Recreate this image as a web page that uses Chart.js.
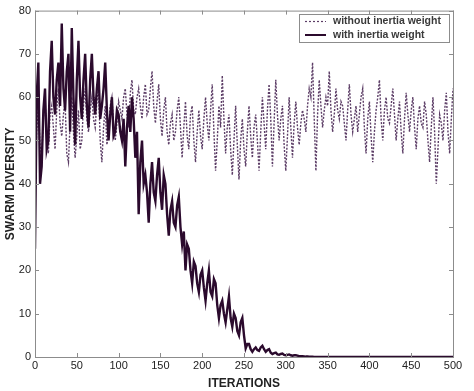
<!DOCTYPE html>
<html>
<head>
<meta charset="utf-8">
<script src="https://cdn.jsdelivr.net/npm/chart.js@4.4.1/dist/chart.umd.min.js"></script>
<style>
    body { margin: 0; background: #fff; }
    #wrap { width: 474px; height: 391px; position: relative; }
</style>
</head>
<body>
<div id="wrap"><canvas id="myChart"></canvas></div>
<script>
// iterations sampled every 2 steps
const iterations = Array.from({ length: 251 }, (_, i) => i * 2);

const withoutInertia = [
    40, 52, 58, 49, 46, 55, 60, 50, 47, 56, 58, 53, 48, 57, 62, 54, 51, 56, 59, 47, 45, 54, 60, 52, 46, 51, 57, 48, 50, 58, 62, 55,
    52, 57, 60, 55, 53, 59, 62, 50, 45, 53, 58, 49, 52, 58, 60, 53, 50, 54, 59, 57, 55, 60, 62, 56, 53, 61, 64, 57, 56, 60, 62, 58,
    55, 60, 63, 56, 57, 62, 66, 58, 54, 59, 63, 55, 51, 57, 60, 52, 49, 54, 56, 50, 52, 57, 60, 53, 46, 53, 59, 51, 48, 56, 58, 50,
    45, 52, 57, 51, 48, 55, 60, 54, 50, 57, 63, 52, 43, 50, 58, 53, 65, 55, 47, 53, 56, 48, 42, 50, 58, 49, 41, 50, 55, 48, 44, 52,
    58, 51, 46, 53, 56, 50, 43, 52, 60, 54, 48, 57, 63, 55, 44, 54, 64, 56, 50, 55, 58, 49, 43, 51, 60, 53, 46, 54, 59, 53, 49, 54,
    57, 55, 52, 58, 62, 60, 68, 55, 43, 56, 64, 58, 53, 57, 60, 58, 66, 57, 52, 56, 62, 57, 55, 59, 58, 54, 50, 57, 63, 56, 52, 55,
    58, 52, 56, 60, 62, 53, 47, 55, 59, 51, 45, 52, 57, 60, 64, 55, 50, 57, 60, 55, 54, 58, 62, 56, 50, 55, 59, 52, 47, 55, 61, 56,
    52, 57, 60, 53, 48, 55, 58, 54, 53, 59, 56, 50, 45, 53, 60, 52, 40, 48, 56, 54, 50, 57, 61, 52, 47, 55, 62
];

const withInertia = [
    25, 60, 68, 40, 44, 57, 62, 48, 50, 66, 73, 60, 56, 64, 68, 58, 77, 62, 57, 66, 70, 52, 76, 60, 49, 64, 73, 60, 55, 64, 70, 58,
    53, 64, 70, 60, 56, 62, 66, 55, 58, 62, 68, 57, 50, 56, 60, 51, 52, 57, 56, 52, 50, 55, 44, 53, 58, 52, 60, 55, 46, 52, 33, 45,
    50, 40, 42, 38, 31, 40, 45, 38, 36, 42, 46, 38, 34, 42, 40, 33, 28, 34, 36, 31, 30, 35, 37, 30, 26, 29, 20, 26, 25, 20, 17, 22,
    21, 17, 15, 19, 20, 16, 13, 17, 20, 15, 14, 18, 17, 12, 9, 12, 13, 10, 8, 11, 14, 9, 7, 10, 9, 6, 5, 8, 9, 5, 2, 3,
    3, 1.8, 1.2, 1.8, 2.2, 1.6, 1.4, 2.2, 2.6, 1.8, 1.2, 1.6, 1.8, 1, 0.7, 0.9, 1, 0.6, 0.5, 0.7, 0.8, 0.5, 0.4, 0.5, 0.6, 0.4, 0.3, 0.4, 0.4, 0.3, 0.2, 0.2,
    0.2, 0.15, 0.1, 0.1, 0.08, 0.05, 0.05, 0.04, 0.03, 0.02, 0, 0, 0, 0, 0, 0, 0, 0, 0, 0, 0, 0, 0, 0, 0, 0, 0, 0, 0, 0, 0, 0,
    0, 0, 0, 0, 0, 0, 0, 0, 0, 0, 0, 0, 0, 0, 0, 0, 0, 0, 0, 0, 0, 0, 0, 0, 0, 0, 0, 0, 0, 0, 0, 0,
    0, 0, 0, 0, 0, 0, 0, 0, 0, 0, 0, 0, 0, 0, 0, 0, 0, 0, 0, 0, 0, 0, 0, 0, 0, 0, 0
];

const xTicks = [0, 50, 100, 150, 200, 250, 300, 350, 400, 450, 500];
const yTicks = [0, 10, 20, 30, 40, 50, 60, 70, 80];
const legendLabels = ['without inertia weight', 'with inertia weight'];

const dottedColor = '#5c3d66';
const solidColor = '#2b0a2d';

// matlab style box, inward ticks and legend
const frame = {
    id: 'frame',
    afterDraw(chart) {
        const ctx = chart.ctx;
        const a = chart.chartArea;
        const xs = chart.scales.x, ys = chart.scales.y;
        ctx.save();
        ctx.strokeStyle = '#8c8c8c';
        ctx.lineWidth = 1;
        ctx.strokeRect(a.left + 0.5, a.top + 0.5, a.right - a.left, a.bottom - a.top);
        ctx.beginPath();
        xTicks.forEach(v => {
            const px = Math.round(xs.getPixelForValue(v)) + 0.5;
            ctx.moveTo(px, a.bottom); ctx.lineTo(px, a.bottom - 4);
            ctx.moveTo(px, a.top); ctx.lineTo(px, a.top + 4);
        });
        yTicks.forEach(v => {
            const py = Math.round(ys.getPixelForValue(v)) + 0.5;
            ctx.moveTo(a.left, py); ctx.lineTo(a.left + 4, py);
            ctx.moveTo(a.right, py); ctx.lineTo(a.right - 4, py);
        });
        ctx.stroke();

        // legend
        const lx = 299, ly = 14, lw = 150, lh = 28;
        ctx.fillStyle = '#fff';
        ctx.fillRect(lx, ly, lw, lh);
        ctx.strokeStyle = '#8c8c8c';
        ctx.strokeRect(lx + 0.5, ly + 0.5, lw, lh);
        ctx.font = 'bold 10.5px "Liberation Sans", Arial, sans-serif';
        ctx.textBaseline = 'middle';
        ctx.fillStyle = '#3a3a3a';

        ctx.strokeStyle = dottedColor;
        ctx.lineWidth = 1.2;
        ctx.setLineDash([2, 2]);
        ctx.beginPath(); ctx.moveTo(305, 21.5); ctx.lineTo(326, 21.5); ctx.stroke();
        ctx.fillText(legendLabels[0], 333, 21.5);

        ctx.setLineDash([]);
        ctx.strokeStyle = solidColor;
        ctx.lineWidth = 2;
        ctx.beginPath(); ctx.moveTo(305, 35); ctx.lineTo(326, 35); ctx.stroke();
        ctx.fillText(legendLabels[1], 333, 35);
        ctx.restore();
    }
};

const data = {
    datasets: [{
            label: legendLabels[1],
            data: iterations.map((x, i) => ({ x: x, y: withInertia[i] })),
            borderColor: solidColor,
            borderWidth: 2.4,
            order: 0
        },
        {
            label: legendLabels[0],
            data: iterations.map((x, i) => ({ x: x, y: withoutInertia[i] })),
            borderColor: dottedColor,
            borderWidth: 1.4,
            borderDash: [2, 1.5],
            order: 1
        }
    ]
};

const tickFont = { family: '"Liberation Sans", Arial, sans-serif', size: 11 };
const titleFont = { family: '"Liberation Sans", Arial, sans-serif', size: 12, weight: 'bold' };

const config = {
    type: 'line',
    data,
    options: {
        responsive: true,
        maintainAspectRatio: false,
        animation: false,
        layout: { padding: { left: 0, top: 9, right: 21, bottom: 0 } },
        elements: { point: { radius: 0 }, line: { tension: 0 } },
        plugins: {
            legend: { display: false },
            tooltip: { enabled: false }
        },
        scales: {
            x: {
                type: 'linear',
                min: 0,
                max: 500,
                grid: { display: false, drawTicks: false },
                border: { display: false },
                afterBuildTicks: s => { s.ticks = xTicks.map(v => ({ value: v })); },
                afterFit: s => { s.height = 34; },
                ticks: { color: '#222', font: tickFont, padding: 2, maxRotation: 0 },
                title: { display: true, text: 'ITERATIONS', color: '#222', font: titleFont, padding: { top: 2, bottom: 0 } }
            },
            y: {
                min: 0,
                max: 80,
                grid: { display: false, drawTicks: false },
                border: { display: false },
                afterBuildTicks: s => { s.ticks = yTicks.map(v => ({ value: v })); },
                afterFit: s => { s.width = 35; },
                ticks: { color: '#222', font: tickFont, padding: 4 },
                title: { display: true, text: 'SWARM DIVERSITY', color: '#222', font: titleFont, padding: { top: 3, bottom: 0 } }
            }
        }
    },
    plugins: [frame]
};

var myChart = new Chart(
    document.getElementById('myChart'),
    config
);
</script>
</body>
</html>
